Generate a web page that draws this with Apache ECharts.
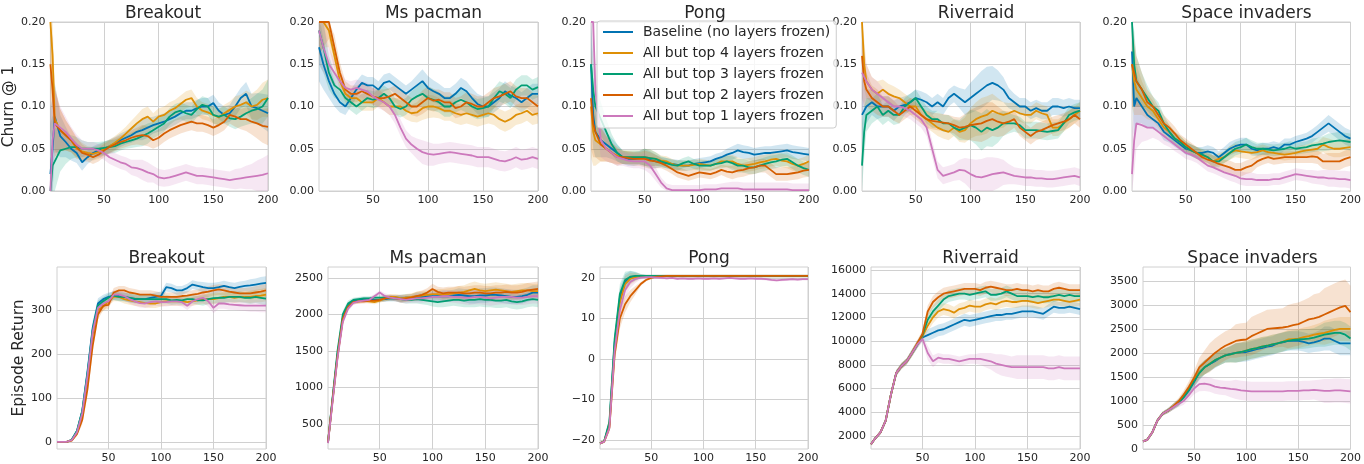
<!DOCTYPE html>
<html>
<head>
<meta charset="utf-8">
<script src="https://cdn.jsdelivr.net/npm/echarts@6/dist/echarts.min.js"></script>
<style>
  html, body { margin: 0; padding: 0; background: #fff; }
  #chart { width: 1364px; height: 464px; }
</style>
</head>
<body>
<div id="chart"></div>
<script>
(function (window, echarts) {
    'use strict';

    // ---- data ----
    const games = ['Breakout', 'Ms pacman', 'Pong', 'Riverraid', 'Space invaders'];
    const variants = [
        'Baseline (no layers frozen)',
        'All but top 4 layers frozen',
        'All but top 3 layers frozen',
        'All but top 2 layers frozen',
        'All but top 1 layers frozen'
    ];
    const palette = ['#0173b2', '#de8f05', '#029e73', '#d55e00', '#cc78bc'];

    const stepsChurn = [1, 3, 5, 10, 15, 20, 25, 30, 35, 40, 45, 50,
        55, 60, 65, 70, 75, 80, 85, 90, 95, 100,
        105, 110, 115, 120, 125, 130, 135, 140, 145, 150,
        155, 160, 165, 170, 175, 180, 185, 190, 195, 200];
    const stepsReturn = [1, 5, 10, 15, 20, 25, 30, 35, 40, 45, 50,
        55, 60, 65, 70, 75, 80, 85, 90, 95, 100,
        105, 110, 115, 120, 125, 130, 135, 140, 145, 150,
        155, 160, 165, 170, 175, 180, 185, 190, 195, 200];

    // churn @ 1, order: baseline, top4, top3, top2, top1
    const churnBreakout = [
        [0.02, 0.05, 0.088, 0.065, 0.058, 0.05, 0.045, 0.034, 0.04, 0.045, 0.048, 0.05, 0.053, 0.056, 0.06, 0.063, 0.066, 0.07, 0.072, 0.075, 0.078, 0.08, 0.082, 0.085, 0.088, 0.092, 0.095, 0.095, 0.098, 0.1, 0.1, 0.104, 0.095, 0.09, 0.092, 0.1, 0.11, 0.115, 0.1, 0.098, 0.095, 0.092],
        [0.2, 0.16, 0.085, 0.072, 0.066, 0.06, 0.05, 0.047, 0.045, 0.044, 0.046, 0.05, 0.053, 0.057, 0.062, 0.068, 0.074, 0.08, 0.085, 0.088, 0.082, 0.088, 0.09, 0.095, 0.098, 0.103, 0.108, 0.11, 0.1, 0.095, 0.093, 0.09, 0.087, 0.092, 0.096, 0.1, 0.102, 0.105, 0.1, 0.102, 0.108, 0.11],
        [0.0, 0.03, 0.035, 0.048, 0.05, 0.052, 0.052, 0.05, 0.05, 0.05, 0.05, 0.051, 0.052, 0.053, 0.056, 0.058, 0.06, 0.062, 0.065, 0.068, 0.072, 0.076, 0.08, 0.088, 0.093, 0.095, 0.092, 0.09, 0.097, 0.102, 0.1, 0.09, 0.088, 0.09, 0.086, 0.085, 0.088, 0.092, 0.095, 0.097, 0.1, 0.11],
        [0.15, 0.12, 0.08, 0.072, 0.066, 0.06, 0.052, 0.045, 0.043, 0.04, 0.043, 0.048, 0.052, 0.055, 0.058, 0.06, 0.063, 0.065, 0.066, 0.065, 0.06, 0.063, 0.068, 0.072, 0.075, 0.078, 0.08, 0.082, 0.08, 0.08, 0.078, 0.075, 0.078, 0.082, 0.09, 0.088, 0.085, 0.085, 0.082, 0.08, 0.077, 0.076],
        [0.0, 0.06, 0.08, 0.075, 0.07, 0.062, 0.055, 0.05, 0.05, 0.05, 0.048, 0.045, 0.04, 0.037, 0.034, 0.032, 0.028, 0.027, 0.025, 0.022, 0.02, 0.016, 0.015, 0.016, 0.018, 0.02, 0.022, 0.02, 0.018, 0.018, 0.017, 0.016, 0.015, 0.014, 0.013, 0.014, 0.015, 0.016, 0.017, 0.018, 0.019, 0.021]
    ];
    const churnBreakoutBand = [0.08, 0.06, 0.04, 0.025, 0.018, 0.014, 0.012, 0.01, 0.008, 0.008, 0.008, 0.008, 0.008, 0.008, 0.008, 0.008, 0.009, 0.01, 0.012, 0.012, 0.01, 0.01, 0.01, 0.01, 0.01, 0.01, 0.01, 0.01, 0.01, 0.01, 0.01, 0.01, 0.01, 0.01, 0.01, 0.012, 0.012, 0.014, 0.015, 0.018, 0.02, 0.022];

    const churnMsPacman = [
        [0.17, 0.16, 0.15, 0.13, 0.115, 0.105, 0.1, 0.11, 0.12, 0.128, 0.125, 0.125, 0.12, 0.128, 0.13, 0.125, 0.12, 0.115, 0.12, 0.125, 0.13, 0.122, 0.118, 0.115, 0.11, 0.11, 0.115, 0.122, 0.118, 0.11, 0.103, 0.1, 0.1, 0.105, 0.11, 0.118, 0.113, 0.11, 0.105, 0.11, 0.115, 0.115],
        [0.2, 0.2, 0.2, 0.19, 0.16, 0.13, 0.115, 0.11, 0.11, 0.105, 0.105, 0.105, 0.11, 0.105, 0.1, 0.1, 0.1, 0.095, 0.092, 0.093, 0.098, 0.1, 0.1, 0.098, 0.095, 0.095, 0.092, 0.09, 0.092, 0.09, 0.088, 0.09, 0.092, 0.09, 0.085, 0.082, 0.085, 0.09, 0.092, 0.095, 0.09, 0.092],
        [0.19, 0.18, 0.17, 0.14, 0.125, 0.12, 0.11, 0.105, 0.1, 0.105, 0.11, 0.108, 0.11, 0.115, 0.11, 0.1, 0.097, 0.1, 0.108, 0.112, 0.115, 0.11, 0.108, 0.105, 0.1, 0.1, 0.105, 0.108, 0.105, 0.1, 0.097, 0.098, 0.1, 0.11, 0.118, 0.115, 0.11, 0.12, 0.125, 0.125, 0.12, 0.123],
        [0.2, 0.2, 0.2, 0.2, 0.17, 0.14, 0.12, 0.115, 0.115, 0.118, 0.115, 0.112, 0.11, 0.11, 0.112, 0.115, 0.11, 0.105, 0.1, 0.1, 0.105, 0.11, 0.107, 0.108, 0.105, 0.105, 0.098, 0.1, 0.105, 0.103, 0.1, 0.1, 0.105, 0.11, 0.112, 0.115, 0.118, 0.112, 0.11, 0.11, 0.105, 0.1],
        [0.19, 0.18, 0.17, 0.15, 0.14, 0.13, 0.122, 0.12, 0.122, 0.12, 0.118, 0.112, 0.108, 0.105, 0.1, 0.09, 0.075, 0.062, 0.055, 0.05, 0.046, 0.044, 0.043, 0.044, 0.045, 0.046, 0.045, 0.044, 0.043, 0.042, 0.04, 0.04, 0.04, 0.038, 0.036, 0.035, 0.037, 0.04, 0.037, 0.038, 0.04, 0.038]
    ];
    const churnMsPacmanBand = [0.04, 0.035, 0.03, 0.02, 0.015, 0.012, 0.01, 0.01, 0.01, 0.01, 0.01, 0.01, 0.01, 0.01, 0.01, 0.01, 0.01, 0.01, 0.01, 0.012, 0.014, 0.014, 0.013, 0.012, 0.012, 0.012, 0.012, 0.012, 0.012, 0.012, 0.012, 0.012, 0.012, 0.012, 0.012, 0.012, 0.012, 0.012, 0.012, 0.012, 0.012, 0.012];

    const churnPong = [
        [0.15, 0.09, 0.07, 0.06, 0.055, 0.05, 0.045, 0.04, 0.038, 0.038, 0.039, 0.04, 0.037, 0.035, 0.034, 0.033, 0.032, 0.031, 0.03, 0.03, 0.032, 0.033, 0.034, 0.035, 0.038, 0.04, 0.043, 0.045, 0.048, 0.046, 0.045, 0.043, 0.044, 0.045, 0.045, 0.046, 0.047, 0.048, 0.046, 0.045, 0.044, 0.043],
        [0.1, 0.07, 0.06, 0.055, 0.05, 0.045, 0.042, 0.04, 0.04, 0.04, 0.04, 0.04, 0.039, 0.038, 0.036, 0.035, 0.032, 0.03, 0.03, 0.03, 0.031, 0.032, 0.031, 0.03, 0.032, 0.035, 0.035, 0.035, 0.032, 0.03, 0.031, 0.032, 0.034, 0.035, 0.037, 0.038, 0.036, 0.035, 0.032, 0.03, 0.032, 0.035],
        [0.15, 0.12, 0.1, 0.085, 0.07, 0.055, 0.045, 0.04, 0.04, 0.04, 0.04, 0.04, 0.039, 0.038, 0.035, 0.033, 0.031, 0.03, 0.033, 0.035, 0.032, 0.03, 0.03, 0.03, 0.032, 0.033, 0.035, 0.033, 0.03, 0.03, 0.028, 0.028, 0.03, 0.032, 0.034, 0.035, 0.037, 0.038, 0.034, 0.03, 0.027, 0.025],
        [0.11, 0.08, 0.07, 0.055, 0.05, 0.045, 0.04, 0.04, 0.039, 0.038, 0.038, 0.038, 0.036, 0.035, 0.033, 0.03, 0.026, 0.022, 0.02, 0.018, 0.02, 0.022, 0.021, 0.02, 0.022, 0.025, 0.023, 0.022, 0.024, 0.025, 0.027, 0.028, 0.03, 0.03, 0.025, 0.02, 0.02, 0.02, 0.021, 0.022, 0.024, 0.025],
        [0.2, 0.2, 0.12, 0.06, 0.05, 0.045, 0.04, 0.038, 0.036, 0.035, 0.035, 0.035, 0.03, 0.02, 0.01, 0.003, 0.001, 0.001, 0.001, 0.001, 0.001, 0.001, 0.002, 0.002, 0.002, 0.003, 0.003, 0.003, 0.003, 0.002, 0.002, 0.002, 0.002, 0.002, 0.002, 0.002, 0.002, 0.002, 0.001, 0.001, 0.001, 0.001]
    ];
    const churnPongBand = [0.06, 0.04, 0.03, 0.02, 0.015, 0.012, 0.01, 0.008, 0.008, 0.008, 0.008, 0.01, 0.01, 0.008, 0.006, 0.006, 0.006, 0.006, 0.006, 0.006, 0.006, 0.006, 0.006, 0.006, 0.006, 0.006, 0.007, 0.008, 0.008, 0.008, 0.008, 0.008, 0.008, 0.008, 0.008, 0.008, 0.008, 0.008, 0.008, 0.008, 0.008, 0.008];

    const churnRiverraid = [
        [0.09, 0.095, 0.1, 0.105, 0.1, 0.1, 0.1, 0.095, 0.1, 0.102, 0.105, 0.11, 0.108, 0.105, 0.1, 0.105, 0.1, 0.11, 0.115, 0.11, 0.105, 0.11, 0.115, 0.12, 0.125, 0.128, 0.125, 0.12, 0.11, 0.105, 0.1, 0.1, 0.095, 0.098, 0.095, 0.095, 0.1, 0.1, 0.098, 0.1, 0.098, 0.098],
        [0.2, 0.15, 0.13, 0.12, 0.115, 0.12, 0.115, 0.112, 0.11, 0.105, 0.1, 0.1, 0.09, 0.085, 0.08, 0.075, 0.072, 0.07, 0.075, 0.07, 0.072, 0.08, 0.085, 0.088, 0.09, 0.095, 0.092, 0.09, 0.092, 0.095, 0.092, 0.09, 0.09, 0.095, 0.092, 0.09, 0.075, 0.075, 0.08, 0.085, 0.09, 0.095],
        [0.03, 0.07, 0.09, 0.095, 0.1, 0.09, 0.095, 0.09, 0.09, 0.1, 0.105, 0.11, 0.1, 0.09, 0.085, 0.085, 0.08, 0.08, 0.075, 0.072, 0.075, 0.078, 0.075, 0.07, 0.075, 0.072, 0.075, 0.08, 0.08, 0.08, 0.078, 0.072, 0.072, 0.072, 0.071, 0.07, 0.071, 0.072, 0.08, 0.09, 0.093, 0.095],
        [0.16, 0.13, 0.12, 0.11, 0.105, 0.1, 0.1, 0.095, 0.09, 0.095, 0.1, 0.095, 0.09, 0.085, 0.083, 0.082, 0.081, 0.08, 0.078, 0.075, 0.076, 0.078, 0.079, 0.08, 0.083, 0.085, 0.082, 0.08, 0.082, 0.085, 0.075, 0.07, 0.065, 0.07, 0.072, 0.075, 0.078, 0.08, 0.082, 0.085, 0.09, 0.085],
        [0.14, 0.135, 0.13, 0.12, 0.115, 0.11, 0.105, 0.1, 0.1, 0.098, 0.095, 0.09, 0.085, 0.075, 0.05, 0.025, 0.018, 0.02, 0.022, 0.025, 0.024, 0.02, 0.017, 0.016, 0.018, 0.02, 0.021, 0.022, 0.02, 0.018, 0.017, 0.016, 0.016, 0.015, 0.015, 0.014, 0.014, 0.015, 0.016, 0.017, 0.018, 0.016]
    ];
    const churnRiverraidBand = [0.05, 0.03, 0.02, 0.015, 0.015, 0.012, 0.012, 0.012, 0.01, 0.01, 0.01, 0.01, 0.01, 0.01, 0.01, 0.01, 0.01, 0.01, 0.01, 0.012, 0.015, 0.018, 0.02, 0.022, 0.022, 0.02, 0.018, 0.015, 0.012, 0.01, 0.01, 0.01, 0.01, 0.01, 0.01, 0.01, 0.01, 0.01, 0.01, 0.01, 0.01, 0.01];

    const churnSpaceInvaders = [
        [0.165, 0.1, 0.11, 0.1, 0.09, 0.085, 0.08, 0.07, 0.065, 0.06, 0.055, 0.05, 0.048, 0.045, 0.045, 0.047, 0.045, 0.04, 0.045, 0.05, 0.053, 0.055, 0.055, 0.05, 0.048, 0.05, 0.05, 0.052, 0.05, 0.055, 0.055, 0.058, 0.06, 0.062, 0.065, 0.07, 0.075, 0.08, 0.075, 0.07, 0.065, 0.062],
        [0.15, 0.13, 0.12, 0.11, 0.1, 0.095, 0.085, 0.075, 0.07, 0.062, 0.058, 0.052, 0.048, 0.045, 0.042, 0.04, 0.035, 0.038, 0.04, 0.045, 0.048, 0.047, 0.046, 0.045, 0.046, 0.048, 0.046, 0.045, 0.044, 0.043, 0.044, 0.045, 0.047, 0.048, 0.049, 0.05, 0.055, 0.052, 0.05, 0.05, 0.051, 0.052],
        [0.2, 0.15, 0.13, 0.12, 0.11, 0.1, 0.095, 0.08, 0.07, 0.062, 0.058, 0.052, 0.048, 0.045, 0.043, 0.04, 0.035, 0.035, 0.04, 0.045, 0.05, 0.052, 0.055, 0.052, 0.05, 0.05, 0.049, 0.048, 0.049, 0.05, 0.052, 0.05, 0.051, 0.052, 0.054, 0.055, 0.056, 0.058, 0.059, 0.06, 0.059, 0.058],
        [0.15, 0.14, 0.13, 0.12, 0.105, 0.1, 0.09, 0.08, 0.075, 0.068, 0.06, 0.055, 0.05, 0.045, 0.04, 0.037, 0.035, 0.032, 0.03, 0.028, 0.025, 0.025, 0.028, 0.03, 0.035, 0.038, 0.04, 0.038, 0.039, 0.04, 0.04, 0.04, 0.04, 0.04, 0.041, 0.04, 0.035, 0.035, 0.035, 0.035, 0.038, 0.04],
        [0.02, 0.06, 0.08, 0.078, 0.075, 0.075, 0.07, 0.065, 0.06, 0.055, 0.05, 0.045, 0.043, 0.04, 0.035, 0.03, 0.028, 0.025, 0.022, 0.02, 0.018, 0.015, 0.014, 0.014, 0.013, 0.013, 0.013, 0.014, 0.014, 0.016, 0.018, 0.02, 0.019, 0.018, 0.017, 0.016, 0.016, 0.015, 0.015, 0.014, 0.014, 0.013]
    ];
    const churnSpaceInvadersBand = [0.05, 0.04, 0.03, 0.02, 0.015, 0.012, 0.01, 0.01, 0.008, 0.008, 0.007, 0.007, 0.007, 0.007, 0.007, 0.007, 0.007, 0.007, 0.007, 0.008, 0.008, 0.008, 0.008, 0.008, 0.007, 0.007, 0.007, 0.007, 0.007, 0.007, 0.007, 0.007, 0.007, 0.007, 0.008, 0.008, 0.009, 0.01, 0.01, 0.01, 0.01, 0.01];

    // episode return
    const returnBreakout = [
        [0, 0, 0, 5, 25, 70, 160, 260, 315, 325, 330, 333, 332, 330, 328, 325, 325, 325, 328, 330, 332, 352, 350, 345, 345, 350, 358, 355, 352, 350, 350, 352, 355, 352, 350, 353, 355, 356, 358, 360, 362],
        [0, 0, 0, 4, 20, 60, 140, 245, 300, 308, 320, 330, 330, 325, 322, 320, 318, 316, 315, 315, 318, 320, 320, 320, 320, 318, 320, 322, 325, 325, 325, 327, 330, 330, 328, 330, 330, 330, 332, 333, 335],
        [0, 0, 0, 5, 25, 70, 155, 255, 310, 320, 328, 333, 330, 330, 328, 326, 325, 325, 325, 325, 325, 325, 322, 323, 322, 325, 325, 322, 322, 325, 327, 328, 328, 330, 330, 330, 328, 328, 330, 328, 326],
        [0, 0, 0, 3, 18, 50, 120, 220, 290, 310, 312, 340, 345, 345, 340, 338, 335, 335, 335, 333, 330, 330, 330, 330, 332, 333, 335, 337, 340, 342, 345, 347, 345, 342, 340, 338, 338, 338, 340, 342, 345],
        [0, 0, 0, 4, 22, 65, 150, 250, 305, 315, 320, 335, 335, 332, 325, 320, 316, 315, 318, 320, 318, 318, 320, 320, 318, 310, 320, 325, 328, 320, 305, 315, 315, 313, 312, 311, 310, 310, 310, 310, 310]
    ];
    const returnBreakoutBand = [0, 0, 0, 2, 5, 10, 15, 15, 12, 10, 10, 10, 10, 10, 10, 10, 10, 10, 10, 10, 10, 10, 10, 10, 10, 10, 10, 10, 12, 12, 12, 12, 12, 12, 12, 12, 12, 14, 14, 15, 15];

    const returnMsPacman = [
        [250, 800, 1450, 1950, 2120, 2190, 2200, 2210, 2210, 2200, 2200, 2210, 2220, 2220, 2220, 2230, 2230, 2240, 2240, 2250, 2250, 2250, 2250, 2250, 2260, 2270, 2260, 2250, 2250, 2260, 2260, 2270, 2270, 2260, 2250, 2240, 2240, 2250, 2270, 2300, 2300],
        [250, 780, 1420, 1930, 2100, 2170, 2180, 2190, 2180, 2170, 2190, 2220, 2240, 2240, 2220, 2230, 2240, 2250, 2260, 2270, 2280, 2280, 2270, 2280, 2290, 2300, 2310, 2330, 2350, 2330, 2320, 2330, 2340, 2330, 2320, 2310, 2320, 2330, 2330, 2320, 2320],
        [250, 820, 1500, 2000, 2150, 2200, 2210, 2220, 2220, 2230, 2230, 2230, 2220, 2220, 2210, 2200, 2200, 2210, 2200, 2190, 2180, 2170, 2180, 2190, 2200, 2200, 2190, 2200, 2200, 2210, 2200, 2200, 2190, 2190, 2200, 2180, 2170, 2180, 2200, 2210, 2200],
        [250, 790, 1430, 1940, 2100, 2170, 2180, 2180, 2190, 2190, 2200, 2220, 2230, 2220, 2210, 2220, 2230, 2250, 2270, 2300, 2350, 2310, 2290, 2300, 2300, 2300, 2290, 2290, 2300, 2300, 2290, 2290, 2300, 2300, 2310, 2300, 2300, 2310, 2330, 2340, 2350],
        [240, 760, 1400, 1900, 2080, 2160, 2180, 2190, 2200, 2250, 2300, 2250, 2230, 2220, 2210, 2200, 2210, 2220, 2220, 2230, 2240, 2240, 2250, 2250, 2240, 2240, 2230, 2230, 2240, 2240, 2230, 2220, 2230, 2240, 2240, 2240, 2230, 2230, 2240, 2250, 2250]
    ];
    const returnMsPacmanBand = [20, 60, 60, 50, 40, 30, 30, 30, 30, 30, 30, 40, 40, 40, 50, 50, 50, 60, 60, 60, 70, 70, 80, 80, 80, 90, 90, 100, 100, 100, 100, 100, 100, 100, 100, 100, 100, 100, 100, 100, 100];

    const returnPong = [
        [-20.8, -20.3, -16, 4, 15, 19, 20.2, 20.4, 20.5, 20.5, 20.5, 20.5, 20.5, 20.5, 20.5, 20.5, 20.5, 20.5, 20.5, 20.5, 20.5, 20.5, 20.5, 20.5, 20.5, 20.5, 20.5, 20.5, 20.5, 20.5, 20.5, 20.5, 20.5, 20.5, 20.5, 20.5, 20.5, 20.5, 20.5, 20.5, 20.5],
        [-20.8, -20.3, -16.5, 3, 14, 18.5, 19.8, 20.2, 20.4, 20.5, 20.5, 20.5, 20.5, 20.5, 20.5, 20.5, 20.5, 20.5, 20.5, 20.5, 20.5, 20.5, 20.5, 20.5, 20.5, 20.5, 20.5, 20.5, 20.5, 20.5, 20.5, 20.5, 20.5, 20.5, 20.5, 20.5, 20.5, 20.5, 20.5, 20.5, 20.5],
        [-20.8, -20.3, -15.5, 5, 16, 19.5, 20.3, 20.5, 20.5, 20.5, 20.5, 20.5, 20.5, 20.5, 20.5, 20.5, 20.5, 20.5, 20.5, 20.5, 20.5, 20.5, 20.5, 20.5, 20.5, 20.5, 20.5, 20.5, 20.5, 20.5, 20.5, 20.5, 20.5, 20.5, 20.5, 20.5, 20.5, 20.5, 20.5, 20.5, 20.5],
        [-20.8, -20.4, -17, 1, 10, 13.5, 15.5, 17, 18.5, 19.5, 20, 20.3, 20.4, 20.5, 20.5, 20.5, 20.5, 20.5, 20.5, 20.5, 20.5, 20.5, 20.5, 20.5, 20.5, 20.5, 20.5, 20.5, 20.5, 20.5, 20.5, 20.5, 20.5, 20.5, 20.5, 20.5, 20.5, 20.5, 20.5, 20.5, 20.5],
        [-20.8, -20.4, -17, 2, 12, 17, 19, 19.8, 20.1, 20.2, 20.2, 20.1, 20, 19.9, 20, 19.8, 19.9, 19.8, 19.8, 19.9, 19.8, 19.8, 19.9, 19.8, 19.9, 20, 19.9, 19.8, 19.8, 19.9, 19.8, 19.8, 19.7, 19.5, 19.4, 19.5, 19.6, 19.7, 19.6, 19.7, 19.7]
    ];
    const returnPongBand = [0.3, 0.3, 1, 2, 2.5, 2, 1.5, 1, 0.5, 0.3, 0.3, 0.3, 0.3, 0.3, 0.3, 0.3, 0.3, 0.3, 0.3, 0.3, 0.3, 0.3, 0.3, 0.3, 0.3, 0.3, 0.3, 0.3, 0.3, 0.3, 0.3, 0.3, 0.3, 0.3, 0.3, 0.3, 0.3, 0.3, 0.3, 0.3, 0.3];

    const returnRiverraid = [
        [1300, 1800, 2300, 3300, 5500, 7300, 7900, 8300, 9000, 9700, 10300, 10500, 10700, 10900, 11000, 11200, 11400, 11600, 11800, 11700, 11800, 11900, 12000, 12100, 12200, 12200, 12300, 12300, 12400, 12500, 12500, 12500, 12400, 12300, 12600, 12900, 12800, 12800, 12900, 12800, 12700],
        [1300, 1800, 2300, 3300, 5500, 7300, 7900, 8300, 9000, 9700, 10400, 11300, 12000, 12500, 12700, 12600, 12400, 12700, 12800, 13000, 12900, 12900, 13100, 13200, 13100, 13300, 13400, 13300, 13300, 13400, 13400, 13300, 13200, 13300, 13400, 13500, 13500, 13400, 13300, 13400, 13500],
        [1300, 1800, 2300, 3300, 5500, 7300, 7900, 8300, 9000, 9700, 10500, 11800, 12500, 13000, 13500, 13800, 13900, 14000, 14000, 13900, 14000, 14100, 14200, 13900, 13900, 14000, 14200, 14000, 13800, 13800, 13800, 13700, 13800, 13700, 13700, 13800, 13900, 13800, 13900, 13800, 13800],
        [1300, 1800, 2300, 3300, 5500, 7300, 7900, 8300, 9000, 9800, 10600, 12500, 13300, 13700, 14000, 14100, 14200, 14300, 14400, 14400, 14400, 14300, 14500, 14600, 14500, 14400, 14300, 14300, 14400, 14300, 14300, 14200, 14300, 14200, 14200, 14400, 14500, 14400, 14300, 14300, 14300],
        [1300, 1800, 2300, 3300, 5500, 7300, 7900, 8300, 9000, 9700, 10200, 9000, 8300, 8600, 8500, 8500, 8400, 8300, 8400, 8500, 8500, 8500, 8400, 8300, 8100, 8000, 7900, 7800, 7800, 7800, 7800, 7800, 7800, 7800, 7700, 7700, 7800, 7700, 7700, 7700, 7700]
    ];
    const returnRiverraidBand = [100, 100, 150, 200, 250, 250, 250, 250, 300, 300, 300, 500, 500, 500, 500, 500, 500, 500, 500, 500, 500, 500, 500, 500, 500, 500, 500, 500, 500, 500, 500, 500, 500, 500, 500, 500, 500, 500, 500, 500, 500];
    const returnRiverraidBandTop1 = [100, 100, 150, 200, 250, 250, 250, 250, 300, 300, 300, 600, 500, 400, 400, 400, 400, 400, 400, 400, 400, 500, 600, 700, 800, 900, 900, 900, 1000, 1000, 1000, 1000, 1000, 1000, 1000, 1000, 1000, 1000, 1000, 1000, 1000];

    const returnSpaceInvaders = [
        [160, 190, 350, 600, 740, 800, 880, 960, 1080, 1220, 1400, 1600, 1700, 1770, 1830, 1900, 1950, 1980, 2000, 2010, 2020, 2050, 2080, 2100, 2130, 2150, 2200, 2220, 2250, 2250, 2250, 2230, 2200, 2220, 2250, 2300, 2300, 2250, 2200, 2200, 2200],
        [160, 190, 350, 600, 740, 800, 880, 960, 1100, 1260, 1430, 1600, 1700, 1780, 1850, 1900, 1950, 1970, 2000, 2020, 2050, 2080, 2100, 2130, 2150, 2180, 2200, 2230, 2280, 2290, 2300, 2330, 2350, 2380, 2400, 2420, 2450, 2480, 2500, 2500, 2500],
        [160, 190, 350, 600, 740, 800, 880, 960, 1080, 1230, 1410, 1580, 1700, 1770, 1850, 1900, 1950, 1970, 2000, 2020, 2050, 2080, 2100, 2130, 2150, 2180, 2200, 2230, 2250, 2270, 2280, 2290, 2300, 2320, 2350, 2380, 2400, 2420, 2420, 2380, 2300],
        [160, 190, 350, 600, 740, 800, 890, 990, 1130, 1290, 1480, 1700, 1800, 1900, 2000, 2080, 2150, 2200, 2250, 2270, 2280, 2350, 2400, 2450, 2500, 2510, 2520, 2530, 2550, 2580, 2600, 2650, 2700, 2720, 2750, 2800, 2850, 2900, 2950, 2980, 2850],
        [160, 190, 350, 600, 740, 800, 870, 940, 1000, 1120, 1260, 1350, 1360, 1340, 1300, 1280, 1270, 1250, 1240, 1220, 1210, 1200, 1200, 1200, 1200, 1200, 1200, 1200, 1210, 1210, 1210, 1220, 1220, 1230, 1220, 1210, 1210, 1220, 1220, 1210, 1200]
    ];
    const returnSpaceInvadersBand = [20, 20, 30, 40, 40, 50, 60, 70, 80, 100, 120, 150, 150, 150, 150, 150, 150, 170, 200, 200, 200, 200, 200, 200, 200, 200, 200, 200, 200, 200, 200, 200, 200, 200, 220, 250, 250, 250, 250, 250, 250];
    const returnSpaceInvadersBandTop2 = [20, 20, 30, 40, 40, 50, 60, 70, 90, 120, 150, 200, 250, 300, 300, 300, 300, 300, 350, 350, 350, 400, 400, 400, 400, 400, 400, 400, 450, 450, 450, 450, 450, 500, 500, 550, 550, 550, 550, 550, 550];

    // y ranges and tick labels of the return panels
    const returnYRange = [[-16, 398], [160, 2650], [-22.2, 22.7], [900, 16250], [0, 3790]];
    const returnYTicks = [
        [0, 100, 200, 300],
        [500, 1000, 1500, 2000, 2500],
        [-20, -10, 0, 10, 20],
        [2000, 4000, 6000, 8000, 10000, 12000, 14000, 16000],
        [0, 500, 1000, 1500, 2000, 2500, 3000, 3500]
    ];
    const stepTicks = [50, 100, 150, 200];

    // ---- layout ----
    const topGrids = [[48, 220], [319, 219], [591, 218], [862, 218], [1132, 219]];
    const bottomGrids = [[57, 209], [328, 210], [600, 208], [871, 209], [1143, 209]];

    const churnLines = [churnBreakout, churnMsPacman, churnPong, churnRiverraid, churnSpaceInvaders];
    const churnBands = [churnBreakoutBand, churnMsPacmanBand, churnPongBand, churnRiverraidBand, churnSpaceInvadersBand];
    const returnLines = [returnBreakout, returnMsPacman, returnPong, returnRiverraid, returnSpaceInvaders];
    const returnBands = [returnBreakoutBand, returnMsPacmanBand, returnPongBand, returnRiverraidBand, returnSpaceInvadersBand];

    const font = 'DejaVu Sans';
    const textColor = '#262626';
    const gridColor = '#d0d0d0';

    const panels = [];
    games.forEach((g, i) => {
        panels.push({
            title: g, grid: {left: topGrids[i][0], width: topGrids[i][1], top: 22, height: 169},
            steps: stepsChurn, lines: churnLines[i],
            bands: churnLines[i].map(() => churnBands[i]),
            yMin: 0, yMax: 0.2, yTicks: null, yName: i === 0 ? 'Churn @ 1' : ''
        });
    });
    games.forEach((g, i) => {
        const bands = returnLines[i].map(() => returnBands[i]);
        if (i === 3) bands[4] = returnRiverraidBandTop1;
        if (i === 4) bands[3] = returnSpaceInvadersBandTop2;
        panels.push({
            title: g, grid: {left: bottomGrids[i][0], width: bottomGrids[i][1], top: 267, height: 182},
            steps: stepsReturn, lines: returnLines[i], bands: bands,
            yMin: returnYRange[i][0], yMax: returnYRange[i][1], yTicks: returnYTicks[i],
            yName: i === 0 ? 'Episode Return' : ''
        });
    });

    const clampTo = (v, lo, hi) => Math.max(lo, Math.min(hi, v));

    const grids = [], xAxes = [], yAxes = [], titles = [], series = [];

    panels.forEach((p, pi) => {
        grids.push(Object.assign({show: true, borderColor: gridColor, borderWidth: 1, containLabel: false}, p.grid));
        titles.push({
            text: p.title,
            left: p.grid.left + p.grid.width / 2,
            top: pi < 5 ? 0 : 245,
            textAlign: 'center',
            textStyle: {fontFamily: font, fontSize: 17, fontWeight: 'normal', color: textColor}
        });
        xAxes.push({
            type: 'value', gridIndex: pi, min: 1, max: 200,
            axisLine: {show: false},
            axisTick: {show: false, customValues: stepTicks},
            axisLabel: {customValues: stepTicks, fontFamily: font, fontSize: 11, color: textColor, margin: 4},
            splitLine: {show: true, lineStyle: {color: gridColor, width: 1}}
        });
        const y = {
            type: 'value', gridIndex: pi, min: p.yMin, max: p.yMax,
            axisLine: {show: false},
            splitLine: {show: true, lineStyle: {color: gridColor, width: 1}},
            name: p.yName, nameLocation: 'middle', nameGap: pi < 5 ? 30 : 28,
            nameTextStyle: {fontFamily: font, fontSize: 15.5, color: textColor}
        };
        if (p.yTicks) {
            y.axisTick = {show: false, customValues: p.yTicks};
            y.axisLabel = {
                customValues: p.yTicks, fontFamily: font, fontSize: 11, color: textColor, margin: 5,
                formatter: (v) => String(v).replace('-', '\u2212')
            };
        } else {
            y.interval = 0.05;
            y.axisTick = {show: false};
            y.axisLabel = {fontFamily: font, fontSize: 11, color: textColor, margin: 5, formatter: (v) => v.toFixed(2)};
        }
        yAxes.push(y);

        // confidence bands: one polygon per variant, placed through the axes
        p.lines.forEach((vals, k) => {
            const band = p.bands[k];
            const rows = p.steps.map((s, j) => [
                s,
                clampTo(vals[j] - band[j], p.yMin, p.yMax),
                clampTo(vals[j] + band[j], p.yMin, p.yMax)
            ]);
            series.push({
                type: 'custom', xAxisIndex: pi, yAxisIndex: pi, silent: true, z: 1,
                data: rows, encode: {x: 0, y: [1, 2]},
                renderItem: (params, api) => {
                    if (params.dataIndex !== 0) return null;
                    const upper = rows.map(r => api.coord([r[0], r[2]]));
                    const lower = rows.map(r => api.coord([r[0], r[1]])).reverse();
                    return {
                        type: 'polygon',
                        shape: {points: upper.concat(lower)},
                        style: {fill: palette[k], opacity: 0.18}
                    };
                }
            });
        });
        // mean lines
        p.lines.forEach((vals, k) => {
            series.push({
                type: 'line', xAxisIndex: pi, yAxisIndex: pi, name: variants[k],
                data: p.steps.map((s, j) => [s, vals[j]]),
                symbol: 'none', z: 3,
                itemStyle: {color: palette[k]},
                lineStyle: {color: palette[k], width: 1.8}
            });
        });
    });

    const chart = echarts.init(document.getElementById('chart'), null, {renderer: 'canvas'});
    chart.setOption({
        animation: false,
        backgroundColor: '#ffffff',
        title: titles,
        grid: grids,
        xAxis: xAxes,
        yAxis: yAxes,
        legend: {
            data: variants,
            orient: 'vertical',
            left: 597, top: 21,
            icon: 'rect', itemWidth: 30, itemHeight: 2, itemGap: 7,
            padding: [4, 6, 5, 6],
            backgroundColor: 'rgba(255,255,255,0.8)',
            borderColor: '#cccccc', borderWidth: 1, borderRadius: 3,
            textStyle: {fontFamily: font, fontSize: 14, color: textColor, padding: [0, 0, 0, 5]}
        },
        series: series
    });

})(window, echarts);
</script>
</body>
</html>
